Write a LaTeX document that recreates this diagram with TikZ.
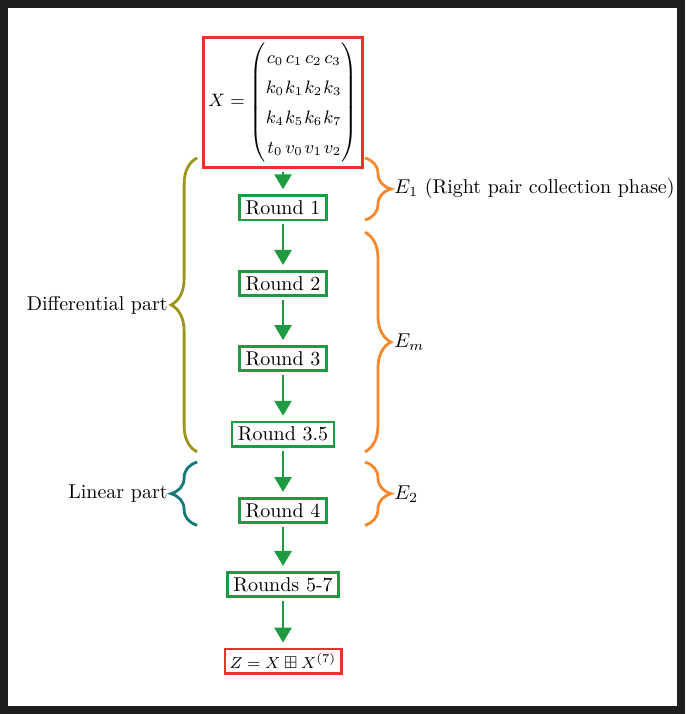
\documentclass[tikz,border=0pt]{standalone}
\usepackage{amsmath,amssymb}
\usetikzlibrary{arrows.meta,decorations.pathreplacing}
\definecolor{boxred}{RGB}{232,50,44}
\definecolor{boxgreen}{RGB}{30,155,65}
\definecolor{braceorange}{RGB}{245,135,45}
\definecolor{braceolive}{RGB}{155,150,25}
\definecolor{braceteal}{RGB}{20,120,120}
\begin{document}
\begin{tikzpicture}[x=1cm,y=1cm,
  roundbox/.style={draw=boxgreen, line width=1.3pt, inner xsep=3pt, inner ysep=2.5pt},
  statebox/.style={draw=boxred, line width=1.3pt, inner sep=2.5pt},
  flow/.style={draw=boxgreen, line width=1.4pt, shorten <=1.5pt, shorten >=2.5pt, -{Triangle[length=7.5pt,width=8.5pt]}},
  bracedraw/.style={decorate, decoration={brace, amplitude=13pt}, line width=1.4pt}]
\useasboundingbox (-4.974,-10.747) rectangle (7.065,1.801);
\draw[line width=4pt, draw=black!88] (-4.904,-10.677) rectangle (6.995,1.731);
% main flow
\node[statebox, font=\small] (x) at (0,0) {\setlength{\arraycolsep}{0.3pt}\renewcommand{\arraystretch}{1.36}$X=\begin{pmatrix}
  c_0 & c_1 & c_2 & c_3\\
  k_0 & k_1 & k_2 & k_3\\
  k_4 & k_5 & k_6 & k_7\\
  t_0 & v_0 & v_1 & v_2
\end{pmatrix}$};
\node[roundbox] (r1) at (0,-1.85) {Round 1};
\node[roundbox] (r2) at (0,-3.18) {Round 2};
\node[roundbox] (r3) at (0,-4.50) {Round 3};
\node[roundbox] (r35) at (0,-5.83) {Round 3.5};
\node[roundbox] (r4) at (0,-7.17) {Round 4};
\node[roundbox] (r57) at (0,-8.47) {Rounds 5-7};
\node[statebox, font=\fontsize{8.5pt}{10pt}\selectfont] (z) at (0,-9.82) {$Z=X\boxplus X^{(7)}$};
\draw[flow] (x) -- (r1);
\draw[flow] (r1) -- (r2);
\draw[flow] (r2) -- (r3);
\draw[flow] (r3) -- (r35);
\draw[flow] (r35) -- (r4);
\draw[flow] (r4) -- (r57);
\draw[flow] (r57) -- (z);
% braces
\coordinate (ltop) at (-1.51,-0.975);
\coordinate (lmid) at (-1.51,-6.14);
\coordinate (llow) at (-1.51,-6.32);
\coordinate (lbot) at (-1.51,-7.43);
\coordinate (rtop) at (1.44,-0.975);
\coordinate (ronebot) at (1.44,-2.065);
\coordinate (rmtop) at (1.44,-2.28);
\coordinate (rmbot) at (1.44,-6.14);
\coordinate (rtwotop) at (1.44,-6.32);
\coordinate (rbot) at (1.44,-7.43);
\draw[bracedraw, draw=braceolive] (lmid) -- (ltop) node[midway, left=13pt, inner sep=1pt] (dpart) {Differential part};
\draw[bracedraw, draw=braceteal] (lbot) -- (llow) node[midway, left=13pt, inner sep=1pt] (lpart) {Linear part};
\draw[bracedraw, draw=braceorange] (rtop) -- (ronebot) node[midway, right=13pt, inner sep=1pt] (eone) {$E_1$ (Right pair collection phase)};
\draw[bracedraw, draw=braceorange] (rmtop) -- (rmbot) node[midway, right=13pt, inner sep=1pt] (em) {$E_m$};
\draw[bracedraw, draw=braceorange] (rtwotop) -- (rbot) node[midway, right=13pt, inner sep=1pt] (etwo) {$E_2$};
\end{tikzpicture}
\end{document}
